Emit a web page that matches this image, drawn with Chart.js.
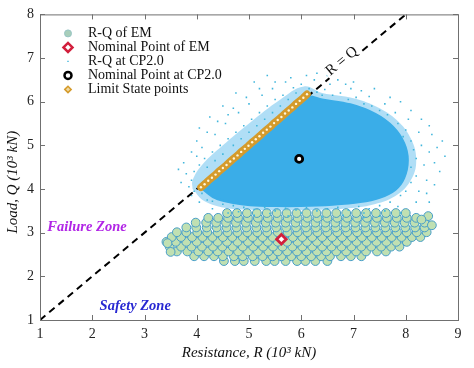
<!DOCTYPE html>
<html>
<head>
<meta charset="utf-8">
<script src="https://cdn.jsdelivr.net/npm/chart.js@4.4.0/dist/chart.umd.min.js"></script>
<style>
  html, body { margin: 0; padding: 0; background: #fff; }
</style>
</head>
<body>
<canvas id="rq" width="474" height="368"></canvas>
<script>
const serif = '"Liberation Serif", "DejaVu Serif", serif';

const xTicks = [1, 2, 3, 4, 5, 6, 7, 8, 9];
const yTicks = [1, 2, 3, 4, 5, 6, 7, 8];

// R-Q of EM, one row of resistances per load level
const emLoad = [2.35, 2.46, 2.57, 2.68, 2.79, 2.90, 3.01, 3.12, 3.23, 3.34, 3.45];
const emRes = [
  [4.52, 4.73, 4.90, 5.11, 5.33, 5.49, 5.70, 5.92, 6.08, 6.27, 6.50],
  [3.95, 4.14, 4.33, 4.50, 4.71, 4.88, 5.07, 5.26, 5.45, 5.62, 5.81, 6.00, 6.19, 6.38, 6.55, 6.76, 6.95, 7.15],
  [3.62, 3.82, 4.03, 4.22, 4.40, 4.61, 4.79, 4.98, 5.17, 5.37, 5.55, 5.73, 5.92, 6.10, 6.30, 6.48, 6.67, 6.86, 7.05, 7.24, 7.45, 7.62],
  [3.48, 3.70, 3.90, 4.10, 4.31, 4.49, 4.69, 4.88, 5.08, 5.27, 5.46, 5.64, 5.83, 6.02, 6.21, 6.40, 6.58, 6.77, 6.96, 7.15, 7.34, 7.53, 7.72, 7.88],
  [3.42, 3.60, 3.80, 4.00, 4.21, 4.40, 4.58, 4.78, 4.98, 5.17, 5.36, 5.55, 5.73, 5.93, 6.11, 6.30, 6.49, 6.68, 6.87, 7.06, 7.25, 7.44, 7.63, 7.82, 8.02],
  [3.52, 3.70, 3.91, 4.11, 4.30, 4.50, 4.68, 4.88, 5.07, 5.26, 5.45, 5.64, 5.84, 6.02, 6.21, 6.40, 6.59, 6.78, 6.97, 7.16, 7.35, 7.54, 7.73, 7.92, 8.12, 8.28],
  [3.62, 3.80, 4.01, 4.20, 4.40, 4.59, 4.78, 4.97, 5.16, 5.35, 5.55, 5.74, 5.93, 6.12, 6.31, 6.50, 6.69, 6.88, 7.07, 7.26, 7.45, 7.64, 7.83, 8.02, 8.21, 8.40],
  [3.80, 3.99, 4.19, 4.38, 4.57, 4.76, 4.95, 5.14, 5.33, 5.52, 5.71, 5.90, 6.09, 6.28, 6.47, 6.66, 6.85, 7.04, 7.23, 7.42, 7.61, 7.80, 7.99, 8.18, 8.36],
  [3.98, 4.18, 4.37, 4.56, 4.75, 4.94, 5.13, 5.32, 5.51, 5.70, 5.89, 6.08, 6.27, 6.46, 6.65, 6.84, 7.03, 7.22, 7.41, 7.60, 7.79, 7.98, 8.17, 8.36],
  [4.22, 4.41, 4.60, 4.79, 4.98, 5.17, 5.36, 5.55, 5.74, 5.93, 6.12, 6.31, 6.50, 6.69, 6.88, 7.07, 7.26, 7.45, 7.64, 7.83, 8.02, 8.20],
  [4.58, 4.77, 4.96, 5.15, 5.34, 5.53, 5.72, 5.91, 6.10, 6.29, 6.48, 6.67, 6.86, 7.05, 7.24, 7.43, 7.62, 7.81, 8.00]
];
const emLoose = [[3.44, 2.76], [3.50, 2.56], [8.50, 3.17], [8.43, 3.38], [8.30, 3.30]];

// R-Q at CP2.0: dense core outline, softer halo outline, loose samples
const cpCore = [
  [4.05, 4.06], [4.35, 3.79], [4.70, 3.68], [5.02, 3.63], [5.50, 3.61], [5.98, 3.61],
  [6.60, 3.64], [7.13, 3.70], [7.50, 3.80], [7.80, 3.98], [7.97, 4.25], [8.04, 4.66],
  [7.97, 5.05], [7.76, 5.42], [7.42, 5.72], [6.94, 5.94], [6.40, 6.05], [6.12, 6.12],
  [5.80, 5.87], [5.20, 5.25], [4.60, 4.62], [4.05, 4.06]
];
const cpHalo = [
  [3.92, 4.00], [4.15, 3.72], [4.60, 3.56], [5.20, 3.52], [6.00, 3.52], [6.80, 3.55],
  [7.40, 3.65], [7.85, 3.88], [8.12, 4.25], [8.20, 4.70], [8.10, 5.15], [7.88, 5.52],
  [7.50, 5.85], [7.00, 6.08], [6.40, 6.20], [6.05, 6.35], [5.60, 6.05], [5.00, 5.50],
  [4.50, 5.00], [4.10, 4.55], [3.92, 4.20], [3.92, 4.00]
];
const cpLoose = [
  [5.85, 6.32], [6.00, 6.40], [6.15, 6.30], [6.30, 6.22], [6.45, 6.28], [6.60, 6.15], [6.75, 6.20],
  [6.90, 6.05], [7.05, 6.10], [7.20, 5.95], [7.35, 5.90], [7.50, 5.80], [7.65, 5.70], [6.25, 6.50],
  [6.55, 6.40], [6.95, 6.30], [7.30, 6.12], [7.60, 5.95], [5.70, 6.45], [6.10, 6.60], [7.80, 5.75],
  [6.40, 6.15], [7.85, 5.50], [8.00, 5.35], [7.95, 5.20], [8.10, 5.10], [8.15, 4.90], [8.20, 4.70],
  [8.10, 4.50], [8.20, 4.30], [8.10, 4.15], [8.30, 5.00], [8.35, 4.55], [8.45, 4.85], [8.25, 5.30],
  [8.05, 5.60], [8.40, 4.20], [8.55, 4.60], [8.50, 5.25], [8.00, 3.95], [7.90, 3.85], [8.25, 3.95],
  [8.60, 4.95], [7.70, 3.70], [7.50, 3.62], [7.30, 3.55], [7.10, 3.60], [6.90, 3.52], [6.70, 3.58],
  [6.50, 3.55], [6.30, 3.50], [6.10, 3.57], [5.90, 3.52], [5.70, 3.56], [5.50, 3.50], [5.30, 3.58],
  [5.10, 3.53], [4.90, 3.58], [4.70, 3.62], [4.50, 3.65], [4.30, 3.72], [7.85, 3.60], [7.60, 3.50],
  [7.20, 3.45], [6.00, 3.45], [5.40, 3.44], [4.80, 3.48], [3.90, 4.20], [3.95, 4.40], [4.05, 4.55],
  [4.15, 4.70], [4.20, 4.50], [4.30, 4.85], [4.35, 4.65], [4.45, 5.00], [4.50, 4.80], [4.60, 5.15],
  [4.70, 5.00], [4.75, 5.30], [4.85, 5.15], [4.90, 5.45], [5.00, 5.30], [5.05, 5.60], [5.15, 5.45],
  [5.20, 5.75], [5.30, 5.60], [5.35, 5.90], [5.45, 5.75], [5.50, 6.05], [5.60, 5.90], [5.65, 6.15],
  [5.75, 6.05], [5.90, 6.20], [4.10, 4.95], [4.35, 5.25], [4.55, 5.50], [4.80, 5.75], [5.00, 5.95],
  [5.25, 6.15], [3.80, 4.35], [4.00, 4.75], [5.45, 6.30], [4.60, 5.70], [3.85, 4.05], [3.95, 3.95],
  [4.10, 3.90], [4.20, 3.75], [4.00, 5.10], [4.20, 5.30], [4.40, 5.55], [4.70, 5.85], [4.95, 6.10],
  [5.20, 6.30], [5.50, 6.45], [5.80, 6.55], [3.75, 4.60], [3.90, 4.85], [4.25, 5.65], [4.50, 5.90],
  [5.10, 6.45], [3.70, 4.15], [3.65, 4.45], [4.75, 6.20], [5.35, 6.60], [4.05, 5.40], [6.30, 6.65],
  [6.70, 6.50], [7.00, 6.45], [7.40, 6.30], [7.70, 6.10], [6.50, 6.60], [6.85, 6.40], [7.15, 6.25],
  [8.45, 5.45], [8.70, 5.10], [8.65, 4.40], [8.75, 4.75], [8.40, 3.90], [8.55, 4.10], [8.30, 5.60],
  [8.10, 5.80], [7.90, 6.00], [8.45, 3.70], [8.20, 3.70], [7.90, 3.45], [7.50, 3.38], [6.80, 3.40],
  [6.40, 3.36], [5.75, 3.38], [5.10, 3.40], [4.60, 3.45], [4.30, 3.55], [4.05, 3.70], [3.90, 3.85],
  [7.20, 3.35]
];

// limit state points on R = Q
const limitR = [4.08, 4.15, 4.22, 4.29, 4.36, 4.43, 4.50, 4.57, 4.64, 4.71, 4.78, 4.85, 4.92, 4.99, 5.06,
  5.13, 5.20, 5.27, 5.34, 5.41, 5.48, 5.55, 5.62, 5.69, 5.76, 5.83, 5.90, 5.97, 6.04, 6.11];
const limitQ = [4.04, 4.11, 4.19, 4.26, 4.33, 4.41, 4.48, 4.55, 4.63, 4.70, 4.77, 4.85, 4.92, 4.99, 5.07,
  5.14, 5.21, 5.29, 5.36, 5.43, 5.51, 5.58, 5.65, 5.73, 5.80, 5.87, 5.95, 6.02, 6.09, 6.17];

const nominalEM = [5.62, 2.85];
const nominalCP = [5.96, 4.69];
const rqLine = [[1, 1], [8, 8]];

const legendLabels = ['R-Q of EM', 'Nominal Point of EM', 'R-Q at CP2.0', 'Nominal Point at CP2.0', 'Limit State points'];

const green = 'rgb(192,224,178)';
const greenEdge = 'rgb(72,158,200)';
const blue = '#3aade8';
const dotBlue = '#40b6dc';
const orange = '#d59b2c';
const red = '#d21f3c';

const emPoints = [];
emLoad.forEach((q, i) => emRes[i].forEach(r => emPoints.push({ x: r, y: q })));
emLoose.forEach(p => emPoints.push({ x: p[0], y: p[1] }));
const xy = arr => arr.map(p => ({ x: p[0], y: p[1] }));

const extras = {
  id: 'extras',
  afterDatasetsDraw(chart) {
    const { ctx, chartArea: a, scales: { x, y } } = chart;
    ctx.save();

    // R = Q text on the dashed line
    const ang = Math.atan2(y.getPixelForValue(8) - y.getPixelForValue(1), x.getPixelForValue(8) - x.getPixelForValue(1));
    ctx.save();
    ctx.translate(x.getPixelForValue(6.84), y.getPixelForValue(6.84));
    ctx.rotate(ang);
    ctx.font = '15px ' + serif;
    const w = ctx.measureText('R = Q').width;
    ctx.fillStyle = '#fff';
    ctx.fillRect(-w / 2 - 2, -13, w + 4, 15);
    ctx.fillStyle = '#111';
    ctx.textAlign = 'center';
    ctx.textBaseline = 'middle';
    ctx.fillText('R = Q', 0, -5);
    ctx.restore();

    // zone labels
    ctx.font = 'italic bold 14.5px ' + serif;
    ctx.textBaseline = 'middle';
    ctx.textAlign = 'left';
    ctx.fillStyle = '#b125e6';
    ctx.fillText('Failure Zone', x.getPixelForValue(1.14), y.getPixelForValue(3.13));
    ctx.fillStyle = '#2828d2';
    ctx.fillText('Safety Zone', x.getPixelForValue(2.14), y.getPixelForValue(1.32));

    // box and inward ticks
    ctx.strokeStyle = '#707070';
    ctx.lineWidth = 1;
    ctx.strokeRect(a.left + 0.5, a.top + 0.5, a.right - a.left, a.bottom - a.top);
    ctx.beginPath();
    xTicks.forEach(v => {
      const px = Math.round(x.getPixelForValue(v)) + 0.5;
      ctx.moveTo(px, a.bottom); ctx.lineTo(px, a.bottom - 5);
      ctx.moveTo(px, a.top); ctx.lineTo(px, a.top + 5);
    });
    yTicks.forEach(v => {
      const py = Math.round(y.getPixelForValue(v)) + 0.5;
      ctx.moveTo(a.left, py); ctx.lineTo(a.left + 5, py);
      ctx.moveTo(a.right, py); ctx.lineTo(a.right - 5, py);
    });
    ctx.stroke();

    // legend
    const drawPoint = Chart.helpers.drawPoint;
    const mx = a.left + 28;
    ctx.font = '14px ' + serif;
    legendLabels.forEach((label, i) => {
      const my = a.top + 19 + i * 14;
      ctx.lineWidth = 1;
      if (i === 0) {
        ctx.fillStyle = 'rgb(168,206,186)'; ctx.strokeStyle = 'rgb(150,196,196)';
        drawPoint(ctx, { pointStyle: 'circle', radius: 3.5, borderWidth: 1 }, mx, my);
      } else if (i === 1) {
        ctx.fillStyle = '#fff'; ctx.strokeStyle = red; ctx.lineWidth = 2.5;
        drawPoint(ctx, { pointStyle: 'rectRot', radius: 4.5, borderWidth: 2.5 }, mx, my);
      } else if (i === 2) {
        ctx.fillStyle = dotBlue; ctx.strokeStyle = dotBlue;
        drawPoint(ctx, { pointStyle: 'rect', radius: 1, borderWidth: 0 }, mx, my);
      } else if (i === 3) {
        ctx.fillStyle = '#fff'; ctx.strokeStyle = '#000'; ctx.lineWidth = 2.5;
        drawPoint(ctx, { pointStyle: 'circle', radius: 3.5, borderWidth: 2.5 }, mx, my);
      } else {
        ctx.fillStyle = '#f0d9a0'; ctx.strokeStyle = orange; ctx.lineWidth = 1.5;
        drawPoint(ctx, { pointStyle: 'rectRot', radius: 3.2, borderWidth: 1.5 }, mx, my);
      }
      ctx.fillStyle = '#111';
      ctx.textAlign = 'left';
      ctx.fillText(label, mx + 20, my);
    });
    ctx.restore();
  }
};

new Chart(document.getElementById('rq'), {
  type: 'scatter',
  data: {
    datasets: [
      {
        label: legendLabels[3], data: xy([nominalCP]), order: 0,
        pointStyle: 'circle', pointRadius: 3.5, borderWidth: 2.8,
        backgroundColor: '#fff', borderColor: '#000'
      },
      {
        label: legendLabels[1], data: xy([nominalEM]), order: 1,
        pointStyle: 'rectRot', pointRadius: 4.8, borderWidth: 2.8,
        backgroundColor: '#fff', borderColor: red
      },
      {
        type: 'line', label: legendLabels[4], order: 2,
        data: limitR.map((r, i) => ({ x: r, y: limitQ[i] })),
        borderColor: orange, borderWidth: 7.5, borderCapStyle: 'round',
        pointStyle: 'circle', pointRadius: 1.2, pointBorderWidth: 0,
        pointBackgroundColor: '#fff7dc', fill: false
      },
      {
        type: 'line', label: 'R = Q', data: xy(rqLine), order: 3,
        borderColor: '#000', borderWidth: 2, borderDash: [7, 5],
        pointRadius: 0, fill: false
      },
      {
        label: legendLabels[2], data: xy(cpLoose), order: 4,
        pointStyle: 'rect', pointRadius: 1.1, borderWidth: 0,
        backgroundColor: dotBlue
      },
      {
        type: 'line', label: 'CP2.0 core', data: xy(cpCore), order: 5,
        borderColor: blue, borderWidth: 2, backgroundColor: blue,
        fill: 'shape', tension: 0.35, pointRadius: 0
      },
      {
        type: 'line', label: 'CP2.0 halo', data: xy(cpHalo), order: 6,
        borderColor: 'rgba(58,173,232,0)', borderWidth: 0, backgroundColor: 'rgba(58,173,232,0.4)',
        fill: 'shape', tension: 0.4, pointRadius: 0
      },
      {
        label: legendLabels[0], data: emPoints, order: 7,
        pointStyle: 'circle', pointRadius: 4.4, borderWidth: 1,
        backgroundColor: green, borderColor: greenEdge
      }
    ]
  },
  options: {
    responsive: false,
    animation: false,
    events: [],
    layout: { padding: { top: 14, right: 16, left: 0, bottom: 0 } },
    plugins: {
      legend: { display: false },
      tooltip: { enabled: false }
    },
    scales: {
      x: {
        type: 'linear', min: 1, max: 9,
        afterFit(scale) { scale.height = 48; },
        grid: { display: false, drawTicks: false },
        border: { display: false },
        ticks: { stepSize: 1, padding: 6, color: '#222', font: { family: serif, size: 14 } },
        title: {
          display: true, text: 'Resistance, R (10³ kN)', color: '#111',
          font: { family: serif, size: 15, style: 'italic' }, padding: { top: 0, bottom: 6 }
        }
      },
      y: {
        type: 'linear', min: 1, max: 8,
        afterFit(scale) { scale.width = 40; },
        grid: { display: false, drawTicks: false },
        border: { display: false },
        ticks: { stepSize: 1, padding: 6, color: '#222', font: { family: serif, size: 14 } },
        title: {
          // trailing spaces push the rotated text down to where the original sits
          display: true, text: 'Load, Q (10³ kN)        ', color: '#111',
          font: { family: serif, size: 15, style: 'italic' }, padding: { top: 4, bottom: 0 }
        }
      }
    }
  },
  plugins: [extras]
});
</script>
</body>
</html>
